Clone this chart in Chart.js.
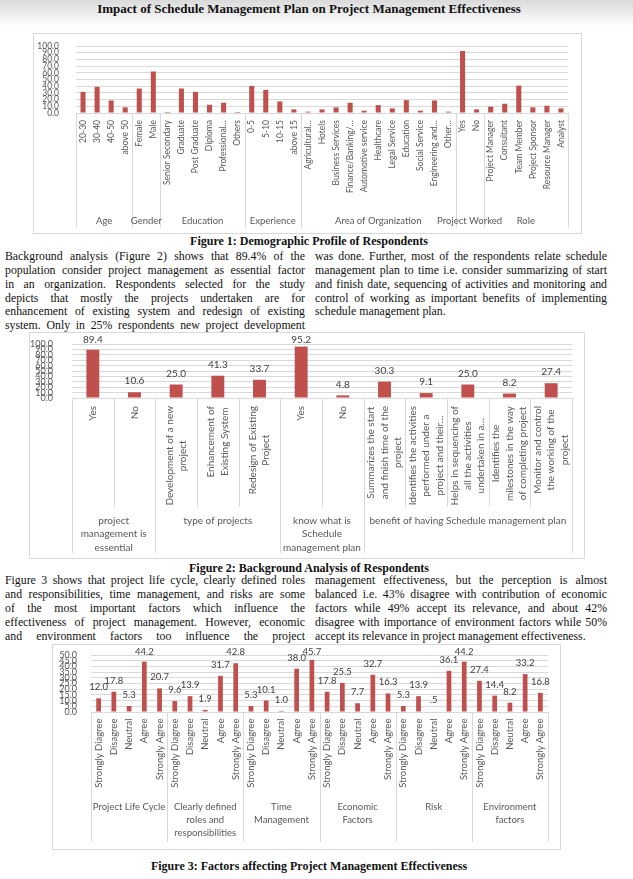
<!DOCTYPE html>
<html>
<head>
<meta charset="utf-8">
<script src="https://cdn.jsdelivr.net/npm/chart.js@4.4.1/dist/chart.umd.min.js"></script>
<style>
  body { margin: 0; background: #fff; }
  #page { position: relative; width: 633px; height: 879px; overflow: hidden; font-family: "Liberation Serif", "Times New Roman", serif; color: #111; }
  .shade { position: absolute; left: 0; top: 0; width: 633px; height: 26px; background: linear-gradient(#dadada, #fff); }
  .cap { position: absolute; left: 0; width: 618px; text-align: center; font-weight: bold; line-height: 14px; }
  .box { position: absolute; border: 1px solid #d9d9d9; background: #fff; }
  .box canvas { display: block; }
  .ln { position: absolute; font-size: 11.8px; line-height: 14px; height: 14px; text-align: justify; text-align-last: justify; }
  .ln.last { text-align: left; text-align-last: left; }
</style>
</head>
<body>
<div id="page">
  <div class="shade"></div>
  <div class="cap" style="top:2px;font-size:13px;">Impact of Schedule Management Plan on Project Management Effectiveness</div>

  <div class="box" style="left:33px;top:33px;"><canvas id="fig1" width="547" height="199"></canvas></div>
  <div class="cap" style="top:234px;font-size:12px;">Figure 1: Demographic Profile of Respondents</div>

  <div class="ln" style="left:5px;top:249px;width:300px;">Background analysis (Figure 2) shows that 89.4% of the</div>
  <div class="ln" style="left:5px;top:263px;width:300px;">population consider project management as essential factor</div>
  <div class="ln" style="left:5px;top:277px;width:300px;">in an organization. Respondents selected for the study</div>
  <div class="ln" style="left:5px;top:291px;width:300px;">depicts that mostly the projects undertaken are for</div>
  <div class="ln" style="left:5px;top:304px;width:300px;">enhancement of existing system and redesign of existing</div>
  <div class="ln" style="left:5px;top:318px;width:300px;">system. Only in 25% respondents new project development</div>
  <div class="ln" style="left:315px;top:249px;width:292px;">was done. Further, most of the respondents relate schedule</div>
  <div class="ln" style="left:315px;top:263px;width:292px;">management plan to time i.e. consider summarizing of start</div>
  <div class="ln" style="left:315px;top:277px;width:292px;">and finish date, sequencing of activities and monitoring and</div>
  <div class="ln" style="left:315px;top:291px;width:292px;">control of working as important benefits of implementing</div>
  <div class="ln last" style="left:315px;top:304px;width:292px;">schedule management plan.</div>

  <div class="box" style="left:29px;top:332px;"><canvas id="fig2" width="554" height="225"></canvas></div>
  <div class="cap" style="top:561px;font-size:12px;">Figure 2: Background Analysis of Respondents</div>

  <div class="ln" style="left:5px;top:573px;width:300px;">Figure 3 shows that project life cycle, clearly defined roles</div>
  <div class="ln" style="left:5px;top:587px;width:300px;">and responsibilities, time management, and risks are some</div>
  <div class="ln" style="left:5px;top:601px;width:300px;">of the most important factors which influence the</div>
  <div class="ln" style="left:5px;top:615px;width:300px;">effectiveness of project management. However, economic</div>
  <div class="ln" style="left:5px;top:629px;width:300px;">and environment factors too influence the project</div>
  <div class="ln" style="left:315px;top:573px;width:292px;">management effectiveness, but the perception is almost</div>
  <div class="ln" style="left:315px;top:587px;width:292px;">balanced i.e. 43% disagree with contribution of economic</div>
  <div class="ln" style="left:315px;top:601px;width:292px;">factors while 49% accept its relevance, and about 42%</div>
  <div class="ln" style="left:315px;top:615px;width:292px;">disagree with importance of environment factors while 50%</div>
  <div class="ln last" style="left:315px;top:629px;width:292px;">accept its relevance in project management effectiveness.</div>

  <div class="box" style="left:52px;top:644px;"><canvas id="fig3" width="507" height="204"></canvas></div>
  <div class="cap" style="top:859px;font-size:12px;">Figure 3: Factors affecting Project Management Effectiveness</div>
</div>

<script>
// ---- Figure 1: demographic profile ----
const fig1Groups = ["Age", "Gender", "Education", "Experience", "Area of Organization", "Project Worked", "Role"];
const fig1GroupSizes = [4, 2, 6, 4, 11, 2, 6];
const fig1Categories = [
    "20-30", "30-40", "40-50", "above 50",
    "Female", "Male",
    "Senior Secondary", "Graduate", "Post Graduate", "Diploma", "Professional…", "Others",
    "0-5", "5-10", "10-15", "above 15",
    "Agricultural…", "Hotels", "Business Services", "Finance/Banking/…", "Automotive service", "Healthcare",
    "Legal Service", "Education", "Social Service", "Engineering and…", "Other…",
    "Yes", "No",
    "Project Manager", "Consultant", "Team Member", "Project Sponsor", "Resource Manager", "Analyst"
];
const fig1Values = [
    31.5, 39.0, 18.7, 8.4,
    36.5, 62.0,
    1.5, 36.5, 31.5, 12.3, 15.3, 1.5,
    40.4, 34.5, 17.2, 5.4,
    2.0, 5.4, 8.4, 15.3, 3.4, 11.8, 6.9, 19.2, 3.4, 18.7, 2.0,
    92.6, 5.4,
    9.4, 13.8, 40.9, 8.4, 10.8, 6.9
];

// ---- Figure 2: background analysis ----
const fig2Groups = [["project", "management is", "essential"], ["type of projects"], ["know what is", "Schedule", "management plan"], ["benefit of having Schedule management plan"]];
const fig2GroupSizes = [2, 3, 2, 5];
const fig2Categories = [
    "Yes", "No",
    ["Development of a new", "project"], ["Enhancement of", "Existing System"], ["Redesign of Existing", "Project"],
    "Yes", "No",
    ["Summarizes the start", "and finish time of the", "project"],
    ["Identifies the activities", "performed under a", "project and their…"],
    ["Helps in sequencing of", "all the activities", "undertaken in a…"],
    ["Identifies the", "milestones in the way", "of completing project"],
    ["Monitor and control", "the working of the", "project"]
];
const fig2Values = [89.4, 10.6, 25.0, 41.3, 33.7, 95.2, 4.8, 30.3, 9.1, 25.0, 8.2, 27.4];

// ---- Figure 3: factors affecting effectiveness ----
const fig3Groups = [["Project Life Cycle"], ["Clearly defined", "roles and", "responsibilities"], ["Time", "Management"], ["Economic", "Factors"], ["Risk"], ["Environment", "factors"]];
const fig3GroupSizes = [5, 5, 5, 5, 5, 5];
const fig3Scale = ["Strongly Diagree", "Disagree", "Neutral", "Agree", "Strongly Agree"];
const fig3Categories = fig3Groups.flatMap(() => fig3Scale);
const fig3Values = [
    12.0, 17.8, 5.3, 44.2, 20.7,
    9.6, 13.9, 1.9, 31.7, 42.8,
    5.3, 10.1, 1.0, 38.0, 45.7,
    17.8, 25.5, 7.7, 32.7, 16.3,
    5.3, 13.9, 0.5, 36.1, 44.2,
    27.4, 14.4, 8.2, 33.2, 16.8
];

const BAR_RED = "#c0504d";
const AXIS_GREY = "#595959";
const GRID_GREY = "#d9d9d9";

// excel style multi level category axis: rotated labels, separators, group names
const excelAxis = {
    id: "excelAxis",
    afterDraw(chart, args, o) {
        const ctx = chart.ctx;
        const xs = chart.scales.x;
        const base = chart.chartArea.bottom;
        const n = chart.data.labels.length;
        const step = (xs.right - xs.left) / n;
        ctx.save();
        ctx.fillStyle = AXIS_GREY;
        ctx.textAlign = "center";
        ctx.textBaseline = "middle";
        ctx.font = o.tickFont + "px Lato";
        chart.data.labels.forEach((label, i) => {
            const lines = [].concat(label);
            const w = Math.max(...lines.map(t => ctx.measureText(t).width));
            ctx.save();
            ctx.translate(xs.getPixelForValue(i), base + o.tickPad + w / 2);
            ctx.rotate(-Math.PI / 2);
            lines.forEach((t, j) => ctx.fillText(t, 0, (j - (lines.length - 1) / 2) * o.tickLine));
            ctx.restore();
        });

        const bounds = [0];
        o.groupSizes.forEach(s => bounds.push(bounds[bounds.length - 1] + s));
        ctx.strokeStyle = GRID_GREY;
        ctx.lineWidth = 1;
        for (let i = 0; i <= n; i++) {
            const isGroup = bounds.includes(i);
            if (!isGroup && !o.intra) continue;
            const x = Math.round(xs.left + i * step) + 0.5;
            ctx.beginPath();
            ctx.moveTo(x, base);
            ctx.lineTo(x, isGroup ? o.groupBottom : o.tickBottom);
            ctx.stroke();
        }

        ctx.font = o.groupFont + "px Lato";
        o.groups.forEach((g, gi) => {
            const cx = xs.left + (bounds[gi] + bounds[gi + 1]) / 2 * step;
            [].concat(g).forEach((t, j) => ctx.fillText(t, cx, o.groupTop + j * o.groupLine));
        });
        ctx.restore();
    }
};

// value labels above the bars (kept inside the box like excel does)
const valueLabels = {
    id: "valueLabels",
    afterDatasetsDraw(chart, args, o) {
        if (!o.show) return;
        const ctx = chart.ctx;
        const data = chart.data.datasets[0].data;
        ctx.save();
        ctx.font = o.font + "px Lato";
        ctx.fillStyle = "#404040";
        ctx.textAlign = "center";
        ctx.textBaseline = "middle";
        chart.getDatasetMeta(0).data.forEach((bar, i) => {
            ctx.fillText(o.format(data[i]), bar.x, Math.max(bar.y - o.offset, o.minY));
        });
        ctx.restore();
    }
};

function buildChart(id, categories, values, groups, groupSizes, o) {
    return new Chart(document.getElementById(id).getContext("2d"), {
        type: "bar",
        data: {
            labels: categories,
            datasets: [{
                data: values,
                backgroundColor: BAR_RED,
                barPercentage: o.barPct,
                categoryPercentage: 1
            }]
        },
        options: {
            responsive: false,
            animation: false,
            layout: { padding: { top: o.padTop, right: o.padRight, left: 0, bottom: 0 } },
            plugins: {
                legend: { display: false },
                tooltip: { enabled: false },
                excelAxis: {
                    groups, groupSizes,
                    tickFont: o.tickFont, tickPad: o.tickPad, tickLine: o.tickLine,
                    groupFont: o.groupFont, groupTop: o.groupTop, groupLine: o.groupLine,
                    groupBottom: o.groupBottom, tickBottom: o.tickBottom, intra: o.intra
                },
                valueLabels: { show: o.showValues, font: o.valueFont, offset: 11, minY: o.minY, format: o.format }
            },
            scales: {
                x: {
                    grid: { display: false },
                    border: { color: GRID_GREY },
                    ticks: { display: false },
                    afterFit: s => { s.height = o.xHeight; }
                },
                y: {
                    min: 0,
                    max: o.yMax,
                    grid: { color: GRID_GREY, drawTicks: false },
                    border: { display: false },
                    ticks: {
                        stepSize: o.yStep,
                        autoSkip: false,
                        padding: o.yPad,
                        color: AXIS_GREY,
                        font: { family: "Lato", size: o.yFont },
                        callback: v => v.toFixed(1)
                    },
                    // fixed width, and don't let the label padding push the plot down
                    afterFit: s => { s.width = o.yWidth; s.paddingTop = 0; s.paddingBottom = 0; }
                }
            }
        },
        plugins: [excelAxis, valueLabels]
    });
}

buildChart("fig1", fig1Categories, fig1Values, fig1Groups, fig1GroupSizes, {
    yMax: 100, yStep: 10, yFont: 8.5, yPad: 17, yWidth: 42,
    padTop: 12, padRight: 13, xHeight: 120, barPct: 0.36,
    tickFont: 8.5, tickPad: 7, tickLine: 10,
    groupFont: 9.5, groupTop: 186.5, groupLine: 12, groupBottom: 194, intra: false,
    showValues: false
});

buildChart("fig2", fig2Categories, fig2Values, fig2Groups, fig2GroupSizes, {
    yMax: 100, yStep: 10, yFont: 9, yPad: 19, yWidth: 42,
    padTop: 11, padRight: 12, xHeight: 160, barPct: 0.31,
    tickFont: 10, tickPad: 8, tickLine: 13.3,
    groupFont: 10, groupTop: 187.7, groupLine: 13.3, groupBottom: 220, tickBottom: 173.7, intra: true,
    showValues: true, valueFont: 10, minY: 7, format: v => v.toFixed(1)
});

buildChart("fig3", fig3Categories, fig3Values, fig3Groups, fig3GroupSizes, {
    yMax: 50, yStep: 5, yFont: 9, yPad: 14, yWidth: 38,
    padTop: 10, padRight: 12, xHeight: 137, barPct: 0.31,
    tickFont: 9.5, tickPad: 6.6, tickLine: 12,
    groupFont: 9.5, groupTop: 161.7, groupLine: 13.3, groupBottom: 197, intra: false,
    showValues: true, valueFont: 9.5, minY: 7, format: v => v.toFixed(1).replace(/^0\./, ".")
});
</script>
</body>
</html>
